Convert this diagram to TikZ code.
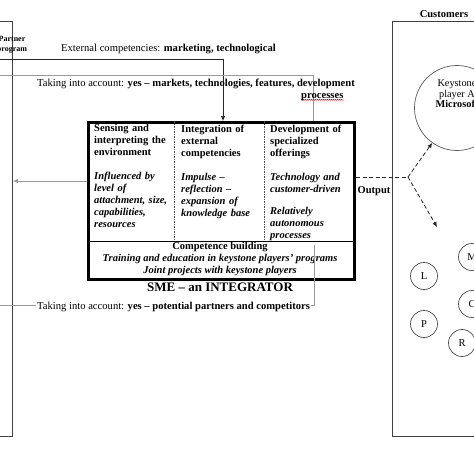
\documentclass[tikz,border=0pt]{standalone}
\usepackage{fontspec}
\setmainfont{Liberation Serif}
\usetikzlibrary{arrows.meta,decorations.pathmorphing}
\tikzset{
  txt/.style={inner sep=0pt, font=\fontsize{10.6}{12}\selectfont},
  coltxt/.style={txt, anchor=north west, align=left, font=\fontsize{10.5}{12}\selectfont\bfseries},
  frame/.style={draw=black!75, line width=1.1pt},
  darkline/.style={draw=black!85, line width=0.7pt},
  grayline/.style={draw=black!40, line width=0.6pt},
  arr/.style={-{Latex[length=5pt,width=4.5pt]}},
  divider/.style={draw=black!70, line width=0.6pt, dash pattern=on 1.5pt off 1pt},
  smallc/.style={circle, draw=black!70, line width=0.7pt, minimum size=27pt, inner sep=0pt, font=\fontsize{10.5}{12}\selectfont},
  outdash/.style={draw=black!85, line width=0.8pt, dash pattern=on 4pt off 2.5pt}
}
\begin{document}
\begin{tikzpicture}[x=1pt,y=-1pt]
\useasboundingbox (0,0) rectangle (474,474);
\clip (0,0) rectangle (474,474);
\fill[white] (0,0) rectangle (474,474);

% outer boxes
\node[frame, anchor=north east, minimum width=40pt, minimum height=415pt, inner sep=0pt] (partner) at (13,21) {};
\node[frame, anchor=north west, minimum width=120pt, minimum height=415pt, inner sep=0pt] (customers) at (392,21) {};
\node[txt, align=center, font=\fontsize{8}{10}\selectfont\bfseries] (ptxt) at (12,45) {Partner\\program};
\node[txt, font=\fontsize{10.5}{12}\selectfont\bfseries] (ctitle) at (444,14) {Customers};

% integrator box
\node[draw=black, line width=3pt, anchor=north west, minimum width=266pt, minimum height=157pt, inner sep=0pt] (integ) at (87,121) {};
\coordinate (hdiv) at (0,241);
\draw[draw=black, line width=0.8pt] (integ.west |- hdiv) -- (integ.east |- hdiv);
\coordinate (d1) at (174,241);
\coordinate (d2) at (264,241);
\draw[divider] (d1 |- integ.north) -- (d1);
\draw[divider] (d2 |- integ.north) -- (d2);

\node[coltxt, text width=80pt] (col1) at (94,124.5) {Sensing and\\interpreting the\\environment\\[12pt]\itshape Influenced by\\level of\\attachment, size,\\capabilities,\\resources};
\node[coltxt, text width=80pt] (col2) at (181,124.5) {Integration of\\external\\competencies\\[12pt]\itshape Impulse --\\reflection --\\expansion of\\knowledge base};
\node[coltxt, text width=85pt] (col3) at (270,124.5) {Development of\\specialized\\offerings\\[12pt]\itshape Technology and\\customer-driven\\[10pt]Relatively\\autonomous\\processes};
\node[txt, align=center, font=\fontsize{10.5}{12}\selectfont\bfseries] (cb) at (220,259) {Competence building\\\itshape Training and education in keystone players' programs\\\itshape Joint projects with keystone players};
\node[txt, font=\fontsize{13}{15}\selectfont\bfseries] (sme) at (220,287) {SME -- an INTEGRATOR};

% external competencies
\node[txt, anchor=west] (ext) at (61,49) {External competencies: \textbf{marketing, technological}};
\coordinate (es) at (-5,59);
\coordinate (ec) at (223,59);
\draw[darkline, arr] (es) -- (ec) -- (ec |- integ.north);

% taking into account (top)
\coordinate (t1a) at (-5,75);
\coordinate (t1b) at (313,75);
\draw[grayline] (t1a) -- (t1b) -- (t1b |- integ.north);
\node[txt, anchor=west] (tk1) at (37,84) {Taking into account: \textbf{yes -- markets, technologies, features, development}};
\node[txt, anchor=west, font=\fontsize{10.6}{12}\selectfont\bfseries] (procs) at (301,97) {processes};
\draw[red!80!black, line width=0.4pt, decorate, decoration={snake, amplitude=0.5pt, segment length=2pt}] ([yshift=1pt]procs.south west) -- ([yshift=1pt]procs.south east);

% taking into account (bottom)
\coordinate (t2a) at (-5,305);
\coordinate (t2b) at (314,305);
\coordinate (t2c) at (314,245);
\draw[grayline] (t2a) -- (t2b) -- (t2c);
\node[txt, anchor=west, fill=white, inner xsep=1pt] (tk2) at (36,307) {Taking into account: \textbf{yes -- potential partners and competitors}};

% arrow to partner
\coordinate (lft) at (0,181);
\draw[grayline, arr] (integ.west |- lft) -- (partner.east |- lft);

% output
\node[txt, font=\fontsize{10.5}{12}\selectfont\bfseries] (out) at (374,191) {Output};
\coordinate (split) at (408,177);
\coordinate (tip2) at (437,227);
\node[circle, draw=black!65, line width=0.7pt, minimum size=85pt, inner sep=0pt] (ks) at (457,108) {};
\node[txt, align=center, font=\fontsize{10.3}{10.5}\selectfont] (kstxt) at (457,94) {Keystone\\player A\\\textbf{Microsoft}};
\draw[outdash] (integ.east |- split) -- (split);
\draw[outdash, arr] (split) -- (ks);
\draw[outdash, arr] (split) -- (tip2);

% small circles
\node[smallc] (L) at (424,276) {L};
\node[smallc] (P) at (424,324) {P};
\node[smallc] (M) at (472,257) {M};
\node[smallc] (C) at (472,304) {C};
\node[smallc] (R) at (462,343) {R};
\end{tikzpicture}
\end{document}
